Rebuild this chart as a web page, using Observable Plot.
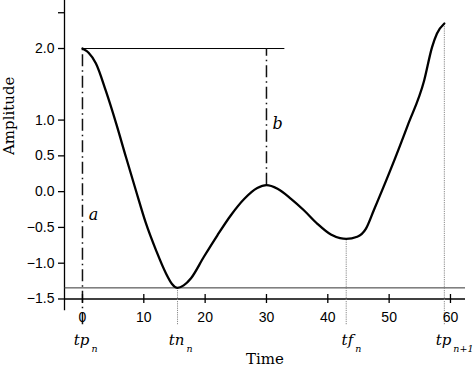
<!DOCTYPE html>
<html><head><meta charset="utf-8">
<script src="https://cdn.jsdelivr.net/npm/d3@7"></script>
<script src="https://cdn.jsdelivr.net/npm/@observablehq/plot@0.6"></script>
<style>body{margin:0;background:#fff} svg{display:block}</style>
</head><body><div id="chart"></div>
<script>
// Curve samples (Time, Amplitude)
const times = [0, 1, 2.2, 3.8, 5.5, 7.1, 8.7, 10.3, 12.0, 13.6, 14.6, 15.5, 16.5, 17.7, 19.8, 22.0, 24.2, 26.4, 28.5, 30, 31.8, 34, 36.1, 38.3, 40.5, 42, 43, 44.8, 46.2, 47.5, 50.2, 53.0, 55.7, 57.0, 57.8, 59];
const amplitudes = [2.0, 1.94, 1.79, 1.41, 0.95, 0.48, 0.02, -0.43, -0.82, -1.14, -1.29, -1.345, -1.31, -1.21, -0.91, -0.61, -0.33, -0.10, 0.05, 0.09, 0.04, -0.10, -0.26, -0.45, -0.60, -0.65, -0.66, -0.63, -0.52, -0.26, 0.30, 0.92, 1.55, 2.02, 2.21, 2.35];

const xTicks = [0, 10, 20, 30, 40, 50, 60];
const yTicks = [2.5, 2.0, 1.0, 0.5, 0.0, -0.5, -1.0, -1.5];
const yTickLabels = ["", "2.0", "1.0", "0.5", "0.0", "\u22120.5", "\u22121.0", "\u22121.5"];

// Characteristic points
const eventTimes = [0, 15.5, 43, 59];
const eventValues = [2.0, -1.345, -0.66, 2.35];
const eventNames = ["tp", "tn", "tf", "tp"];
const eventSubs = ["n", "n", "n", "n+1"];
const highLevel = 2.0;
const lowLevel = -1.345;
const highLineEnd = 33;
const peakTime = 30;
const peakValue = 0.09;
const axisLevel = -1.5;
const guideBottom = -1.86;

const noteLabels = ["a", "b"];
const noteTimes = [1.8, 31.8];
const noteValues = [-0.32, 0.94];

const serif = "DejaVu Serif";
const dashDot = "12,4,1.5,4";

const curve = times.map((t, i) => ({t, v: amplitudes[i]}));
const events = eventTimes.map((t, i) => ({t, v: eventValues[i], name: eventNames[i], sub: eventSubs[i]}));
const notes = noteLabels.map((s, i) => ({s, t: noteTimes[i], v: noteValues[i]}));

const chart = Plot.plot({
  width: 474,
  height: 367,
  marginLeft: 64,
  marginRight: 9,
  marginTop: 0,
  marginBottom: 58,
  style: {fontFamily: "Liberation Sans", fontSize: "14px", background: "white", color: "black"},
  x: {domain: [-2.93, 62.45], label: null},
  y: {domain: [-1.647, 2.671], label: null},
  marks: [
    Plot.frame({anchor: "left", stroke: "black", strokeWidth: 1.3}),
    Plot.ruleY([axisLevel], {stroke: "black", strokeWidth: 1.3}),
    Plot.ruleY([lowLevel], {stroke: "#333", strokeWidth: 1}),
    Plot.ruleY([highLevel], {x1: 0, x2: highLineEnd, stroke: "black", strokeWidth: 1}),
    Plot.ruleX([eventTimes[0]], {y1: guideBottom, y2: highLevel, stroke: "#111", strokeWidth: 1.5, strokeDasharray: dashDot}),
    Plot.ruleX([peakTime], {y1: peakValue, y2: highLevel, stroke: "#111", strokeWidth: 1.5, strokeDasharray: dashDot}),
    Plot.ruleX(events.slice(1), {x: "t", y1: guideBottom, y2: "v", stroke: "#888", strokeWidth: 1, strokeDasharray: "1.2,1"}),
    Plot.line(curve, {x: "t", y: "v", curve: "monotone-x", stroke: "black", strokeWidth: 2.3}),
    Plot.axisY(yTicks, {label: null, tickSize: 6, tickPadding: 4, tickFormat: d => yTickLabels[yTicks.indexOf(d)], fontSize: 14, fontFamily: "Liberation Sans", strokeWidth: 1.3}),
    Plot.axisX(xTicks, {label: null, tickSize: 9, dy: -15, tickFormat: () => "", strokeWidth: 1.3}),
    Plot.axisX(xTicks, {label: null, tickSize: 0, tickPadding: 3, fontSize: 14, fontFamily: "Liberation Sans"}),
    Plot.text(events, {x: "t", text: "name", frameAnchor: "bottom", dy: 31, dx: 7, textAnchor: "end", lineAnchor: "middle", fontFamily: serif, fontStyle: "italic", fontSize: 15}),
    Plot.text(events, {x: "t", text: "sub", frameAnchor: "bottom", dy: 39, dx: 9, textAnchor: "start", lineAnchor: "middle", fontFamily: serif, fontStyle: "italic", fontSize: 9.5}),
    Plot.text(notes, {x: "t", y: "v", text: "s", fontFamily: serif, fontStyle: "italic", fontSize: 16, lineAnchor: "middle"}),
    Plot.text(["Time"], {frameAnchor: "bottom", dy: 50, fontFamily: serif, fontSize: 15, lineAnchor: "middle"}),
    Plot.text(["Amplitude"], {frameAnchor: "left", dx: -55, rotate: -90, fontFamily: serif, fontSize: 15, lineAnchor: "middle"})
  ]
});
document.getElementById("chart").appendChild(chart);
</script>
</body></html>
